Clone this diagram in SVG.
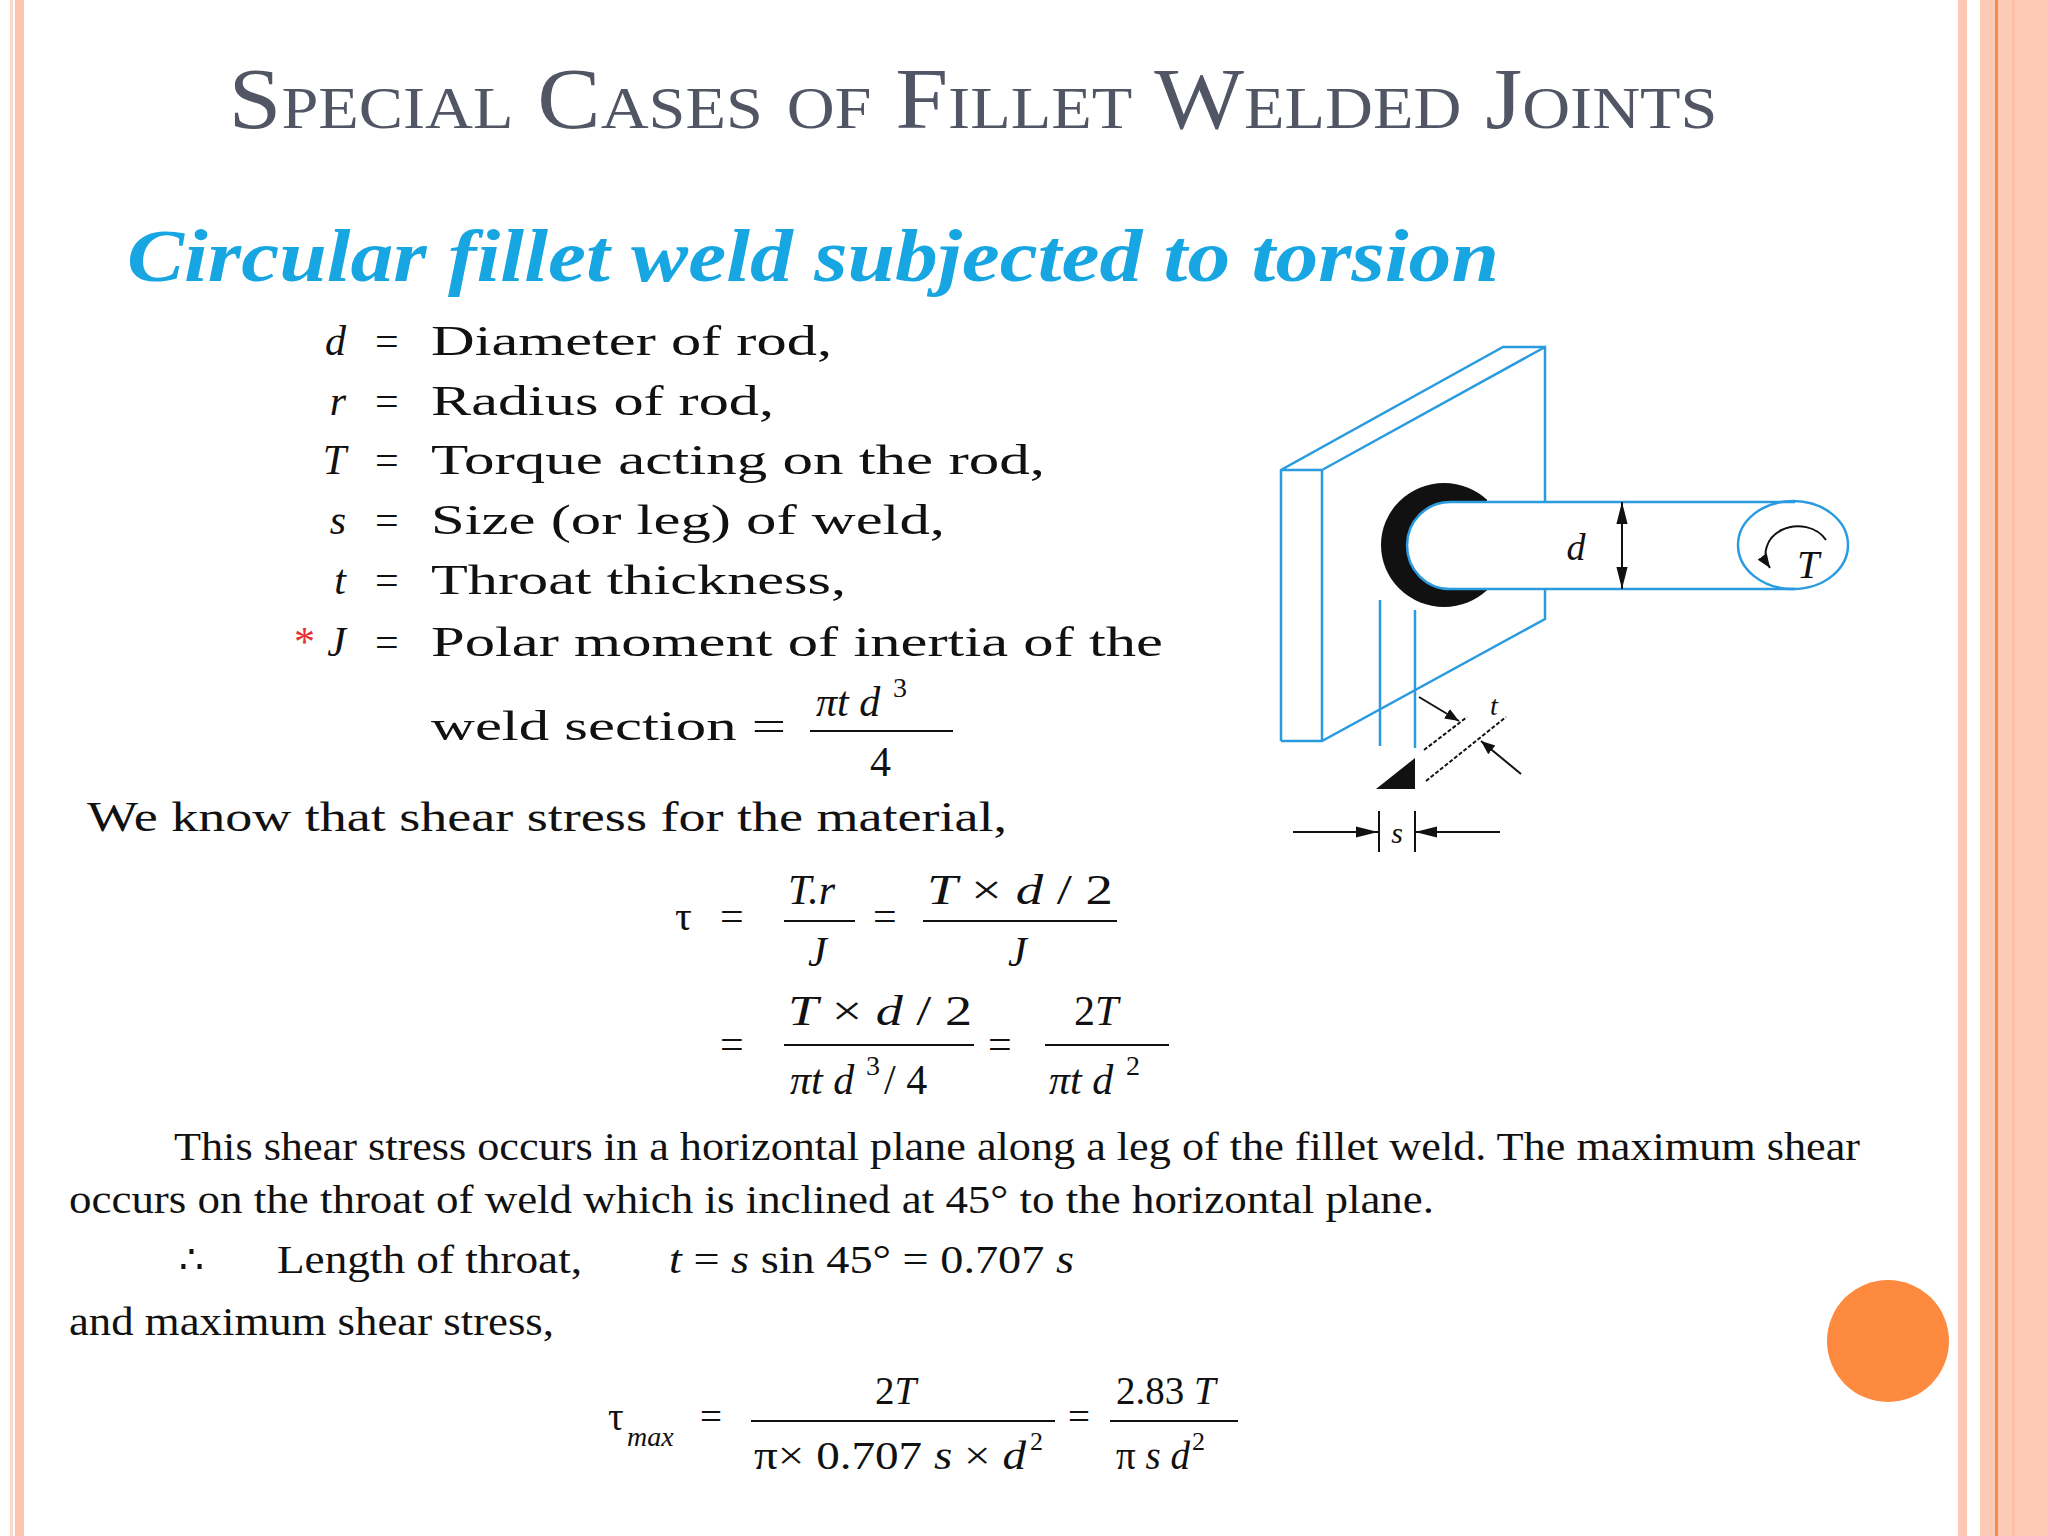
<svg xmlns="http://www.w3.org/2000/svg" width="2048" height="1536" viewBox="0 0 2048 1536">
<style>
.s{font-family:"Liberation Serif",serif;fill:#111}
.d{font-size:42px}
.i{font-style:italic}
.p{font-size:39px}
.m{font-size:42px}
.b{stroke:#2a9be0;stroke-width:2.5;fill:none}
.k{stroke:#111;stroke-width:2;fill:none}
.bar{stroke:#111;stroke-width:2}
</style>
<defs>
<marker id="ah" viewBox="0 0 10 10" refX="10" refY="5" markerWidth="14" markerHeight="14" markerUnits="userSpaceOnUse" orient="auto"><path d="M0,1 L10,5 L0,9 Z" fill="#111"/></marker>
<marker id="ah2" viewBox="0 0 10 10" refX="10" refY="5" markerWidth="22" markerHeight="14" markerUnits="userSpaceOnUse" orient="auto" preserveAspectRatio="none"><path d="M0,1 L10,5 L0,9 Z" fill="#111"/></marker>
<clipPath id="cl"><rect x="1300" y="460" width="187" height="170"/></clipPath>
</defs>
<rect width="2048" height="1536" fill="#fff"/>
<g id="borders">
<rect x="10" y="0" width="3" height="1536" fill="#fbd8cc"/>
<rect x="15" y="0" width="9" height="1536" fill="#fcc4ae"/>
<rect x="1958" y="0" width="9" height="1536" fill="#fcc8b4"/>
<rect x="1980" y="0" width="68" height="1536" fill="#fdcab6"/>
<rect x="1995" y="0" width="3" height="1536" fill="#f98a50"/>
<rect x="2012" y="0" width="3" height="1536" fill="#fcbfa8"/>
</g>
<text x="973" y="128" text-anchor="middle" font-family="Liberation Serif,serif" font-size="86" font-variant="small-caps" fill="#515564" textLength="1489" lengthAdjust="spacingAndGlyphs">Special Cases of Fillet Welded Joints</text>
<text x="127" y="281" font-family="Liberation Serif,serif" font-size="74" font-weight="bold" font-style="italic" fill="#17a6e2" textLength="1372" lengthAdjust="spacingAndGlyphs">Circular fillet weld subjected to torsion</text>
<g id="defs-list" class="s d">
<text x="346" y="355" text-anchor="end" class="i">d</text><text x="375" y="355">=</text><text x="431" y="355" textLength="401" lengthAdjust="spacingAndGlyphs">Diameter of rod,</text>
<text x="346" y="415" text-anchor="end" class="i">r</text><text x="375" y="415">=</text><text x="431" y="415" textLength="343" lengthAdjust="spacingAndGlyphs">Radius of rod,</text>
<text x="346" y="474" text-anchor="end" class="i">T</text><text x="375" y="474">=</text><text x="431" y="474" textLength="614" lengthAdjust="spacingAndGlyphs">Torque acting on the rod,</text>
<text x="346" y="534" text-anchor="end" class="i">s</text><text x="375" y="534">=</text><text x="431" y="534" textLength="514" lengthAdjust="spacingAndGlyphs">Size (or leg) of weld,</text>
<text x="346" y="594" text-anchor="end" class="i">t</text><text x="375" y="594">=</text><text x="431" y="594" textLength="415" lengthAdjust="spacingAndGlyphs">Throat thickness,</text>
<text x="294" y="656" style="fill:#e83030">*</text><text x="346" y="656" text-anchor="end" class="i">J</text><text x="375" y="656">=</text><text x="431" y="656" textLength="732" lengthAdjust="spacingAndGlyphs">Polar moment of inertia of the</text>
<text x="431" y="740" textLength="355" lengthAdjust="spacingAndGlyphs">weld section =</text>
<text x="816" y="716" class="i">πt d</text><text x="893" y="697" font-size="28">3</text>
<line x1="810" y1="731" x2="953" y2="731" class="bar"/>
<text x="870" y="776">4</text>
<text x="87" y="831" textLength="920" lengthAdjust="spacingAndGlyphs">We know that shear stress for the material,</text>
</g>
<g id="eqs" class="s m">
<text x="675" y="930">τ</text><text x="720" y="930">=</text>
<text x="788" y="904" class="i">T.r</text><line x1="784" y1="921" x2="855" y2="921" class="bar"/><text x="808" y="966" class="i">J</text>
<text x="873" y="930">=</text>
<text x="927" y="904" textLength="186" lengthAdjust="spacingAndGlyphs"><tspan class="i">T</tspan> × <tspan class="i">d</tspan> / 2</text>
<line x1="923" y1="921" x2="1117" y2="921" class="bar"/><text x="1008" y="966" class="i">J</text>
<text x="720" y="1058">=</text>
<text x="788" y="1025" textLength="184" lengthAdjust="spacingAndGlyphs"><tspan class="i">T</tspan> × <tspan class="i">d</tspan> / 2</text>
<line x1="784" y1="1045" x2="974" y2="1045" class="bar"/>
<text x="790" y="1094" class="i">πt d</text><text x="866" y="1075" font-size="28">3</text><text x="884" y="1094">/ 4</text>
<text x="988" y="1058">=</text>
<text x="1074" y="1025">2<tspan class="i">T</tspan></text>
<line x1="1045" y1="1045" x2="1169" y2="1045" class="bar"/>
<text x="1049" y="1094" class="i">πt d</text><text x="1126" y="1075" font-size="28">2</text>
</g>
<g id="para" class="s p">
<text x="174" y="1160" textLength="1686" lengthAdjust="spacingAndGlyphs">This shear stress occurs in a horizontal plane along a leg of the fillet weld. The maximum shear</text>
<text x="69" y="1213" textLength="1365" lengthAdjust="spacingAndGlyphs">occurs on the throat of weld which is inclined at 45° to the horizontal plane.</text>
<text x="179" y="1273">∴</text>
<text x="277" y="1273" textLength="305" lengthAdjust="spacingAndGlyphs">Length of throat,</text>
<text x="669" y="1273" textLength="405" lengthAdjust="spacingAndGlyphs"><tspan class="i">t</tspan> = <tspan class="i">s</tspan> sin 45° = 0.707 <tspan class="i">s</tspan></text>
<text x="69" y="1335" textLength="485" lengthAdjust="spacingAndGlyphs">and maximum shear stress,</text>
<text x="608" y="1430">τ</text><text x="627" y="1446" font-size="28" class="i">max</text>
<text x="700" y="1430">=</text>
<text x="875" y="1404">2<tspan class="i">T</tspan></text>
<line x1="751" y1="1421" x2="1055" y2="1421" class="bar"/>
<text x="754" y="1469" textLength="272" lengthAdjust="spacingAndGlyphs">π× 0.707 <tspan class="i">s</tspan> × <tspan class="i">d</tspan></text><text x="1030" y="1450" font-size="26">2</text>
<text x="1068" y="1430">=</text>
<text x="1116" y="1404">2.83 <tspan class="i">T</tspan></text>
<line x1="1110" y1="1421" x2="1238" y2="1421" class="bar"/>
<text x="1116" y="1469">π <tspan class="i">s d</tspan></text><text x="1192" y="1450" font-size="26">2</text>
</g>
<g id="figure">
<path class="b" d="M1281,741 L1281,470 L1503,347 L1545,347 L1545,501 M1545,589 L1545,619 L1322,741 L1281,741 M1322,470 L1545,347 M1281,470 L1322,470 L1322,741"/>
<ellipse cx="1444" cy="545" rx="63" ry="62" fill="#111" clip-path="url(#cl)"/>
<path d="M1793,502 L1450,502 A43,43.5 0 0 0 1450,589 L1793,589 Z" fill="#fff"/>
<path class="b" d="M1795,502 L1450,502 A43,43.5 0 0 0 1450,589 L1795,589"/>
<ellipse cx="1793" cy="545" rx="55" ry="44" fill="#fff" class="b"/>
<line x1="1622" y1="545" x2="1622" y2="502" class="k" marker-end="url(#ah2)"/>
<line x1="1622" y1="545" x2="1622" y2="589" class="k" marker-end="url(#ah2)"/>
<text x="1576" y="560" class="s i" font-size="38" text-anchor="middle">d</text>
<path class="k" d="M1826,540 A28,24 0 1 0 1770,568" marker-end="url(#ah)"/>
<text x="1808" y="578" class="s i" font-size="40" text-anchor="middle">T</text>
<line x1="1380" y1="600" x2="1380" y2="746" class="b"/>
<line x1="1415" y1="610" x2="1415" y2="748" class="b"/>
<path d="M1376,789 L1415,789 L1415,758 Z" fill="#111"/>
<line x1="1424" y1="750" x2="1467" y2="717" class="k" stroke-dasharray="4,2" stroke-width="1.5"/>
<line x1="1426" y1="781" x2="1506" y2="717" class="k" stroke-dasharray="4,2" stroke-width="1.5"/>
<line x1="1419" y1="697" x2="1459" y2="721" class="k" marker-end="url(#ah)"/>
<line x1="1521" y1="774" x2="1481" y2="741" class="k" marker-end="url(#ah)"/>
<text x="1494" y="715" class="s i" font-size="28" text-anchor="middle">t</text>
<line x1="1293" y1="832" x2="1378" y2="832" class="k" marker-end="url(#ah2)"/>
<line x1="1500" y1="832" x2="1415" y2="832" class="k" marker-end="url(#ah2)"/>
<line x1="1379" y1="811" x2="1379" y2="852" class="k"/>
<line x1="1415" y1="811" x2="1415" y2="852" class="k"/>
<text x="1397" y="843" class="s i" font-size="30" text-anchor="middle">s</text>
</g>
<circle cx="1888" cy="1341" r="61" fill="#fd8a3e"/>
</svg>
